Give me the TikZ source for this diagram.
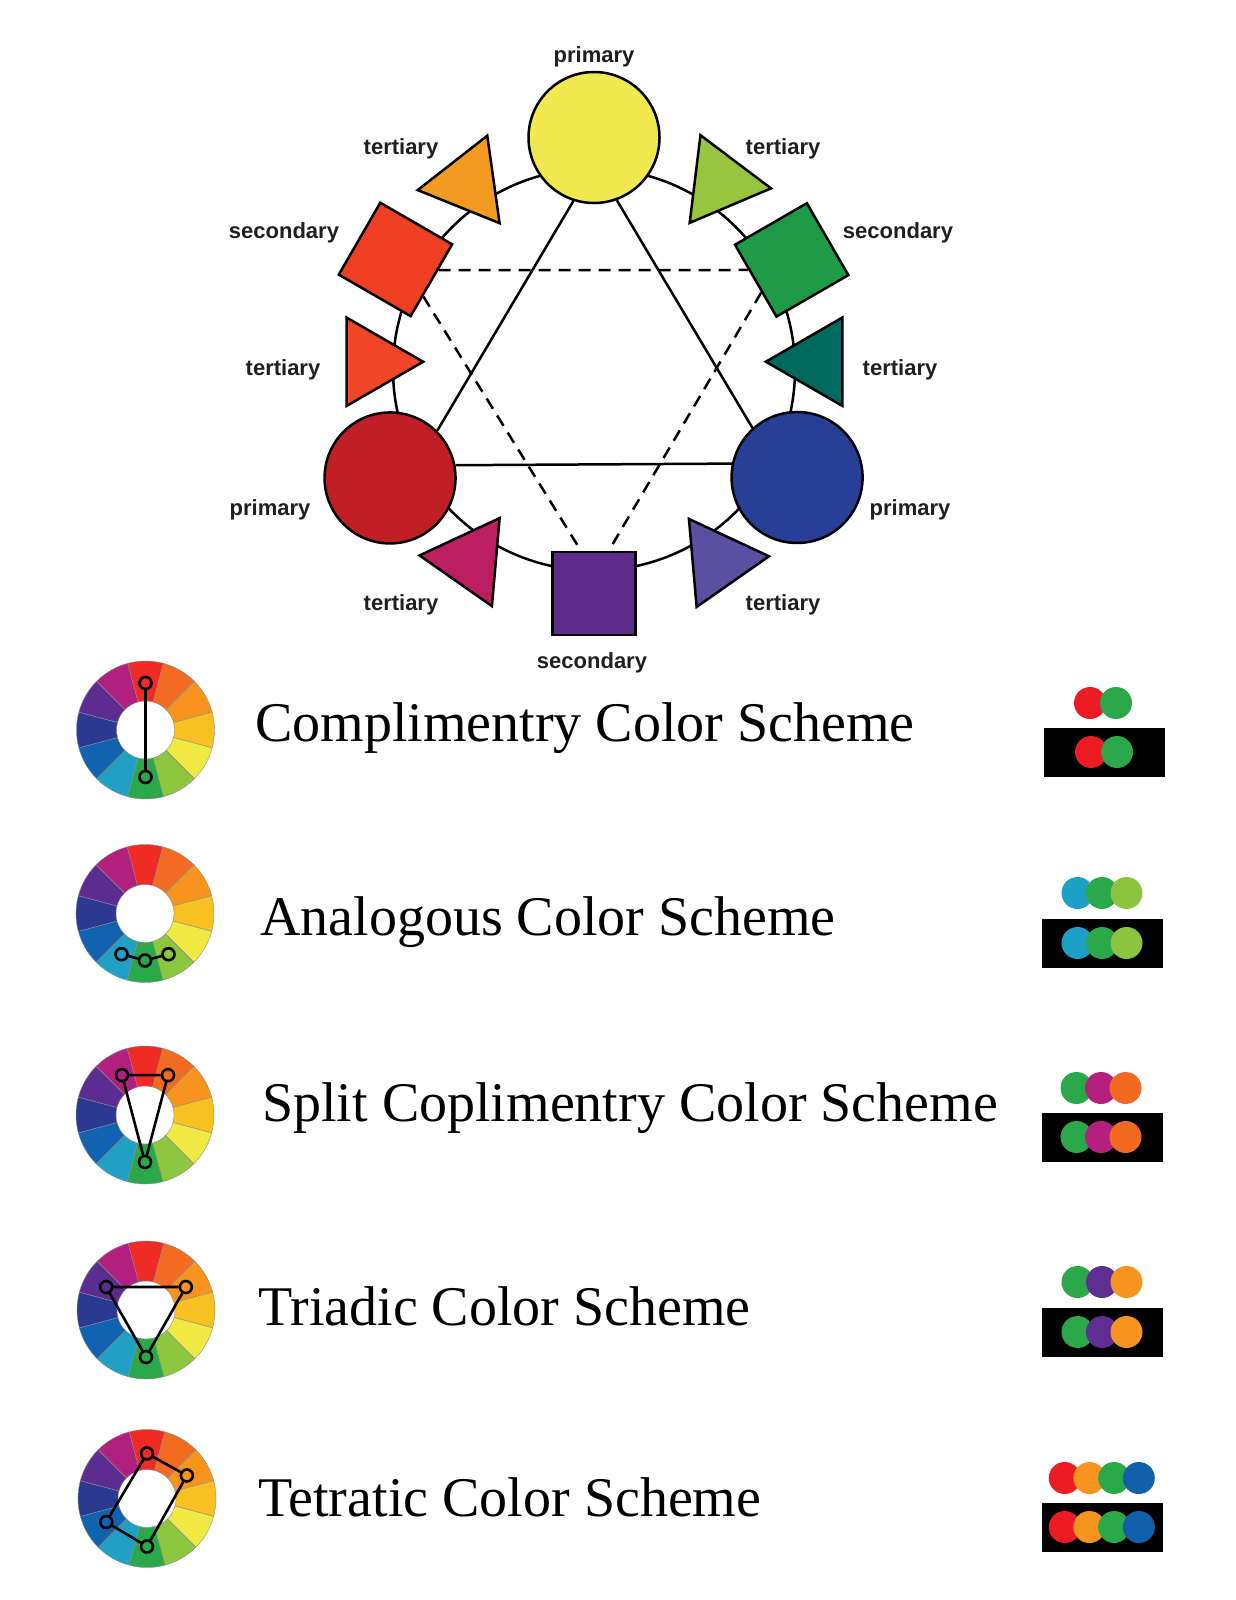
\documentclass[tikz,border=0pt]{standalone}
\usepackage{fontspec}
\newfontfamily\lblfont{Liberation Sans}
\newfontfamily\ttlfont{Liberation Serif}
\usetikzlibrary{shapes.geometric,backgrounds}

% colours of the big wheel
\definecolor{cYel}{HTML}{F0E94F}
\definecolor{cOrg}{HTML}{F39A21}
\definecolor{cLim}{HTML}{98C53F}
\definecolor{cRO}{HTML}{EF4023}
\definecolor{cGrn}{HTML}{1F9B48}
\definecolor{cROt}{HTML}{EE4626}
\definecolor{cTeal}{HTML}{00695F}
\definecolor{cRed}{HTML}{C01F26}
\definecolor{cBlu}{HTML}{283F98}
\definecolor{cMag}{HTML}{BC1E62}
\definecolor{cVio}{HTML}{5B4FA1}
\definecolor{cPur}{HTML}{5E2B8A}
% colours of the small wheels
\definecolor{wA}{HTML}{EE2B24}
\definecolor{wB}{HTML}{F26B21}
\definecolor{wC}{HTML}{F7941D}
\definecolor{wD}{HTML}{F9C021}
\definecolor{wE}{HTML}{F0E843}
\definecolor{wF}{HTML}{8DC63F}
\definecolor{wG}{HTML}{2BA84A}
\definecolor{wH}{HTML}{1FA0C4}
\definecolor{wI}{HTML}{1163AF}
\definecolor{wJ}{HTML}{2B3990}
\definecolor{wK}{HTML}{5C2D91}
\definecolor{wL}{HTML}{B2207F}
% swatch colours
\definecolor{sRed}{HTML}{ED1C24}
\definecolor{sGrn}{HTML}{2BA84A}
\definecolor{sCya}{HTML}{1DA0C6}
\definecolor{sLim}{HTML}{8BC540}
\definecolor{sMag}{HTML}{B51F7F}
\definecolor{sOrR}{HTML}{F26A22}
\definecolor{sPur}{HTML}{5E2E91}
\definecolor{sOrg}{HTML}{F7941E}
\definecolor{sBlu}{HTML}{1260AA}

\tikzset{
  lbl/.style={font=\lblfont\bfseries\fontsize{22}{24}\selectfont, text=black!88, inner sep=0},
  ttl/.style={anchor=base west, font=\ttlfont\fontsize{56}{64}\selectfont, inner sep=0},
  prim/.style={circle, draw, line width=2.5pt, minimum size=131pt, inner sep=0},
  sec/.style={rectangle, draw, line width=2.5pt, minimum size=83pt, inner sep=0},
  ter/.style={regular polygon, regular polygon sides=3, draw, line width=2.5pt, minimum size=102pt, inner sep=0},
  mk/.style={circle, draw, line width=2.6pt, inner sep=0, minimum size=12pt},
  link/.style={line width=2.6pt},
  swbox/.style={fill=black, inner sep=0, minimum width=121pt, minimum height=49pt},
}

\newcommand{\colwheel}[1]{%
  \begin{scope}[shift={(#1)}]
    \foreach \c [count=\i from 0] in {wA,wB,wC,wD,wE,wF,wG,wH,wI,wJ,wK,wL} {
      \pgfmathsetmacro{\a}{105-30*\i}
      \filldraw[fill=\c, draw=black!45, line width=0.4pt]
        (\a:69) arc[start angle=\a, delta angle=-30, radius=69]
        -- ({\a-30}:29) arc[start angle={\a-30}, delta angle=30, radius=29] -- cycle;
    }
  \end{scope}}

\begin{document}
\begin{tikzpicture}[x=1pt, y=1pt]
	\useasboundingbox (0,0) rectangle (1236,-1600);
	% Big wheel:
	\coordinate (C) at (594,-369.5);
	\node[prim, fill=cYel] (pY) at ([shift={(C)}]90:232) {};
	\node[prim, fill=cRed] (pR) at ([shift={(C)}]-152:231) {};
	\node[prim, fill=cBlu] (pB) at ([shift={(C)}]-28:230) {};
	\node[sec, fill=cRO, rotate=-30] (sL) at ([shift={(C)}]151:227) {};
	\node[sec, fill=cGrn, rotate=30] (sR) at ([shift={(C)}]29:226) {};
	\node[sec, fill=cPur] (sB) at ([shift={(C)}]-90:224) {};
	\node[ter, fill=cOrg, rotate=98] (tTL) at ([shift={(C)}]124:225) {};
	\node[ter, fill=cLim, rotate=-97] (tTR) at ([shift={(C)}]56:226) {};
	\node[ter, fill=cROt, rotate=-90] (tL) at ([shift={(C)}]178:222) {};
	\node[ter, fill=cTeal, rotate=90] (tR) at ([shift={(C)}]2:223) {};
	\node[ter, fill=cMag, rotate=85] (tBL) at ([shift={(C)}]-123:227) {};
	\node[ter, fill=cVio, rotate=-85] (tBR) at ([shift={(C)}]-57:228) {};
	\begin{pgfonlayer}{background}
		\draw[line width=2.5pt] (C) circle[radius=201];
		\draw[line width=2.5pt] (pY.252) -- (pR.45);
		\draw[line width=2.5pt] (pY.290) -- (pB.132);
		\draw[line width=2.5pt] (pR.11) -- (pB.168);
		\draw[line width=2.5pt, dash pattern={on 12pt off 8pt}] (sL.16) -- (sR.163);
		\draw[line width=2.5pt, dash pattern={on 12pt off 8pt}] (sL.-23) -- (sB.107);
		\draw[line width=2.5pt, dash pattern={on 12pt off 8pt}] (sR.197) -- (sB.71);
	\end{pgfonlayer}
	% Labels:
	\node[lbl] (lP1) at (594,-57) {primary};
	\node[lbl] (lT1) at (401,-149) {tertiary};
	\node[lbl] (lT2) at (783,-149) {tertiary};
	\node[lbl] (lS1) at (284,-233) {secondary};
	\node[lbl] (lS2) at (898,-233) {secondary};
	\node[lbl] (lT3) at (283,-370) {tertiary};
	\node[lbl] (lT4) at (900,-370) {tertiary};
	\node[lbl] (lP2) at (270,-510) {primary};
	\node[lbl] (lP3) at (910,-510) {primary};
	\node[lbl] (lT5) at (401,-605) {tertiary};
	\node[lbl] (lT6) at (783,-605) {tertiary};
	\node[lbl] (lS3) at (592,-663) {secondary};
	% Small wheels:
	\coordinate (w1) at (145.5,-730);
	\coordinate (w2) at (145,-913.5);
	\coordinate (w3) at (145,-1115);
	\coordinate (w4) at (146,-1310);
	\coordinate (w5) at (147,-1498.5);
	\colwheel{w1}
	\colwheel{w2}
	\colwheel{w3}
	\colwheel{w4}
	\colwheel{w5}
	% complementary
	\node[mk] (m1a) at ([shift={(w1)}]90:47) {};
	\node[mk] (m1b) at ([shift={(w1)}]-90:47) {};
	\draw[link] (m1a) -- (m1b);
	% analogous
	\node[mk] (m2a) at ([shift={(w2)}]-120:47) {};
	\node[mk] (m2b) at ([shift={(w2)}]-90:47) {};
	\node[mk] (m2c) at ([shift={(w2)}]-60:47) {};
	\draw[link] (m2a) -- (m2b) -- (m2c);
	% split complementary
	\node[mk] (m3a) at ([shift={(w3)}]120:46) {};
	\node[mk] (m3b) at ([shift={(w3)}]60:46) {};
	\node[mk] (m3c) at ([shift={(w3)}]-90:47) {};
	\draw[link] (m3a) -- (m3b) -- (m3c) -- (m3a);
	% triadic
	\node[mk] (m4a) at ([shift={(w4)}]150:46) {};
	\node[mk] (m4b) at ([shift={(w4)}]30:46) {};
	\node[mk] (m4c) at ([shift={(w4)}]-90:47) {};
	\draw[link] (m4a) -- (m4b) -- (m4c) -- (m4a);
	% tetradic
	\node[mk] (m5a) at ([shift={(w5)}]90:45) {};
	\node[mk] (m5b) at ([shift={(w5)}]30:46) {};
	\node[mk] (m5c) at ([shift={(w5)}]-90:48) {};
	\node[mk] (m5d) at ([shift={(w5)}]210:47) {};
	\draw[link] (m5a) -- (m5b) -- (m5c) -- (m5d) -- (m5a);
	% Titles:
	\node[ttl] (t1) at (255,-741) {Complimentry Color Scheme};
	\node[ttl] (t2) at (260,-935) {Analogous Color Scheme};
	\node[ttl] (t3) at (262,-1121) {Split Coplimentry Color Scheme};
	\node[ttl] (t4) at (258,-1325) {Triadic Color Scheme};
	\node[ttl] (t5) at (258,-1516) {Tetratic Color Scheme};
	% Swatches:
	\node[swbox] (b1) at (1104,-752) {};
	\foreach \c [count=\i] in {sRed,sGrn} {
		\fill[\c] (1064+26*\i,-703) circle[radius=16];
		\fill[\c] (1065+26*\i,-752) circle[radius=16];
	}
	\node[swbox] (b2) at (1102.5,-943) {};
	\foreach \c [count=\i] in {sCya,sGrn,sLim} {
		\fill[\c] (1053+24.5*\i,-893) circle[radius=16];
		\fill[\c] (1053+24.5*\i,-943) circle[radius=16];
	}
	\node[swbox] (b3) at (1102,-1137) {};
	\foreach \c [count=\i] in {sGrn,sMag,sOrR} {
		\fill[\c] (1052+24.5*\i,-1088) circle[radius=16];
		\fill[\c] (1052+24.5*\i,-1137) circle[radius=16];
	}
	\node[swbox] (b4) at (1102.5,-1332) {};
	\foreach \c [count=\i] in {sGrn,sPur,sOrg} {
		\fill[\c] (1053+24.5*\i,-1282) circle[radius=16];
		\fill[\c] (1053+24.5*\i,-1332) circle[radius=16];
	}
	\node[swbox] (b5) at (1102,-1527) {};
	\foreach \c [count=\i] in {sRed,sOrg,sGrn,sBlu} {
		\fill[\c] (1040+24.7*\i,-1478) circle[radius=16];
		\fill[\c] (1040+24.7*\i,-1527) circle[radius=16];
	}
\end{tikzpicture}
\end{document}
